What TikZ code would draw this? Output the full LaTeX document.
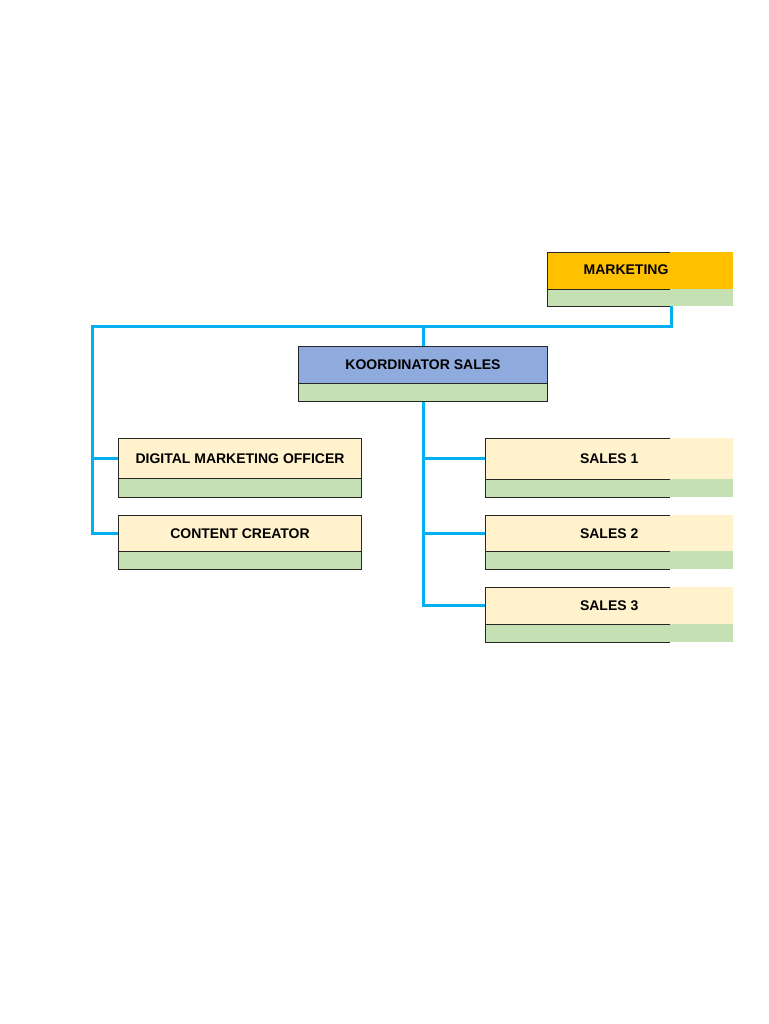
\documentclass[tikz,border=0pt]{standalone}
\usepackage{fontspec}
\setmainfont{Liberation Sans}
\usepackage{xcolor}
\usetikzlibrary{positioning}

\definecolor{linkblue}{HTML}{00B0F0}
\definecolor{mktorange}{HTML}{FFC000}
\definecolor{koorblue}{HTML}{8FAADC}
\definecolor{staffcream}{HTML}{FFF2CC}
\definecolor{notegreen}{HTML}{C5E0B3}

\begin{document}
\begin{tikzpicture}[x=1pt, y=-1pt,
    head/.style={anchor=north west, inner sep=0pt, text=black, font=\fontsize{14}{16}\selectfont\bfseries},
    note/.style={anchor=north west, inner sep=0pt, fill=notegreen, minimum height=18pt},
    rim/.style={line width=1pt, draw=black!85},
    link/.style={line width=3pt, linkblue}]
    \useasboundingbox[fill=white] (0,0) rectangle (768,1024);

    % top box (border cut at x=670)
    \node[head, fill=mktorange, minimum width=186pt, minimum height=37pt] (mkt) at (547,252) {};
    \node[head] (mkttext) at (626,270) [anchor=center] {MARKETING};
    \node[note, minimum width=186pt, minimum height=17pt] (mktN) at (547,289) {};
    \draw[rim] (670,252) -| (547,306) -- (670,306);
    \draw[rim] (547,289) -- (670,289);

    % koordinator
    \node[head, rim, fill=koorblue, minimum width=249pt, minimum height=37pt] (koor) at (298,346) {KOORDINATOR SALES};
    \node[note, rim, minimum width=249pt] (koorN) at (298,383) {};

    % left staff
    \node[head, rim, fill=staffcream, minimum width=243pt, minimum height=40pt] (dmo) at (118,438) {DIGITAL MARKETING OFFICER};
    \node[note, rim, minimum width=243pt, minimum height=19pt] (dmoN) at (118,478) {};
    \node[head, rim, fill=staffcream, minimum width=243pt, minimum height=36pt] (cc) at (118,515) {CONTENT CREATOR};
    \node[note, rim, minimum width=243pt] (ccN) at (118,551) {};

    % sales (border cut at x=670)
    \foreach \i/\top/\h in {1/438/41, 2/515/36, 3/587/37} {
        \node[head, fill=staffcream, minimum width=248pt, minimum height=\h pt] (s\i) at (485,\top) {SALES \i};
        \node[note, minimum width=248pt] (s\i N) at (485,\top+\h) {};
        \draw[rim] (670,\top) -| (485,\top+\h+18) -- (670,\top+\h+18);
        \draw[rim] (485,\top+\h) -- (670,\top+\h);
    }

    % connectors
    \coordinate (mktdrop) at (671,306);
    \coordinate (bus) at (671,326);
    \coordinate (leftbus) at (92,326);
    \draw[link] (mktdrop) -- (bus) -- (leftbus) |- (cc.west);
    \draw[link] (leftbus |- dmo.west) -- (dmo.west);
    \draw[link] (koor.north) -- (koor.north |- bus);
    \draw[link] (koorN.south) |- (s3.west);
    \draw[link] (koorN.south |- s1.west) -- (s1.west);
    \draw[link] (koorN.south |- s2.west) -- (s2.west);
\end{tikzpicture}
\end{document}
